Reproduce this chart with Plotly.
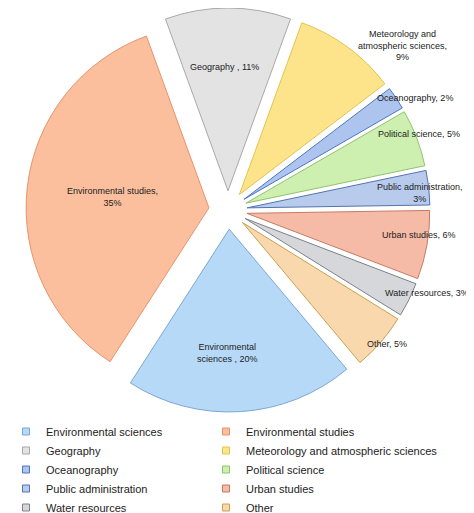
import numpy as np
import plotly.graph_objects as go

# data
categories = ["Environmental sciences", "Environmental studies", "Geography",
              "Meteorology and atmospheric sciences", "Oceanography", "Political science",
              "Public administration", "Urban studies", "Water resources", "Other"]
shares = [20, 35, 11, 9, 2, 5, 3, 6, 3, 5]
slice_text = ["Environmental<br>sciences , {}%", "Environmental studies,<br>{}%", "Geography , {}%",
              "Meteorology and<br>atmospheric sciences,<br>{}%", "Oceanography, {}%",
              "Political science, {}%", "Public administration,<br>{}%", "Urban studies, {}%",
              "Water resources, {}%", "Other, {}%"]

# styles
fills = ["#b7d9f8", "#fbbf9e", "#e3e3e3", "#fde38a", "#adc4ee",
         "#cdefb0", "#b8cbec", "#f5bba7", "#d6d7da", "#f9d8ad"]
edges = ["#7ba7d6", "#e6946b", "#a9a9a9", "#e2c451", "#4c76c4",
         "#8fc470", "#5273ad", "#c47c62", "#7c818b", "#c8a04e"]
label_r = [0.68, 0.53, 0.68, 1.21, 1.09, 1.02, 0.95, 0.95, 1.075, 1.03]   # radius fraction
label_dt = [4.6, 0, -1.8, 11.2, 2.9, -0.8, 1.4, -2.8, -4.0, -0.9]          # angle shift (deg)

W, H = 474, 513
OFF = 8                            # page body margin, px
cx, cy, box = 228, 210, 404        # pie box on screen, px
pull = 0.105
rotation = 140
font = "Liberation Sans, Arial, sans-serif"


def xp(x):
    return (x - OFF) / W


def yp(y):
    return 1 - (y - OFF) / H


fig = go.Figure()
fig.add_trace(go.Pie(
    labels=categories, values=shares, sort=False, direction="clockwise",
    rotation=rotation, pull=pull, textinfo="none", hoverinfo="label+percent",
    showlegend=False,
    marker=dict(colors=fills, line=dict(color=edges, width=1)),
    domain=dict(x=[xp(cx - box / 2), xp(cx + box / 2)],
                y=[yp(cy + box / 2), min(1.0, yp(cy - box / 2))]),
))

# legend entries in two columns (empty traces, only the key is shown)
for i, cat in enumerate(categories):
    fig.add_trace(go.Scatter(
        x=[None], y=[None], mode="markers", name=cat, hoverinfo="skip",
        marker=dict(symbol="square", size=7, color=fills[i], line=dict(color=edges[i], width=1)),
        legend="legend" if i % 2 == 0 else "legend2",
    ))

# slice labels placed from the slice angles
vals = np.array(shares, dtype=float)
r = box / 2 / (1 + pull)
mid = rotation + (np.cumsum(vals) - vals / 2) / vals.sum() * 360
for i, v in enumerate(shares):
    th = np.radians(mid[i])
    ax_ = cx + pull * r * np.sin(th)
    ay_ = cy - pull * r * np.cos(th)
    th2 = np.radians(mid[i] + label_dt[i])
    px = ax_ + label_r[i] * r * np.sin(th2)
    py = ay_ - label_r[i] * r * np.cos(th2)
    fig.add_annotation(x=xp(px), y=yp(py), xref="paper", yref="paper",
                       text=slice_text[i].format(v), showarrow=False,
                       xanchor="center", yanchor="middle",
                       font=dict(family=font, size=9, color="#222222"))

leg = dict(orientation="v", xanchor="left", y=yp(417), yanchor="top",
           bgcolor="rgba(0,0,0,0)", traceorder="normal",
           font=dict(family=font, size=11, color="#222222"))
fig.update_layout(
    width=W, height=H, margin=dict(l=0, r=0, t=0, b=0, autoexpand=False),
    paper_bgcolor="white", plot_bgcolor="white",
    font=dict(family=font, size=11, color="#222222"),
    xaxis=dict(visible=False), yaxis=dict(visible=False),
    legend=dict(leg, x=xp(6)),
    legend2=dict(leg, x=xp(206)),
    showlegend=True,
)

fig.write_html("out.html")
